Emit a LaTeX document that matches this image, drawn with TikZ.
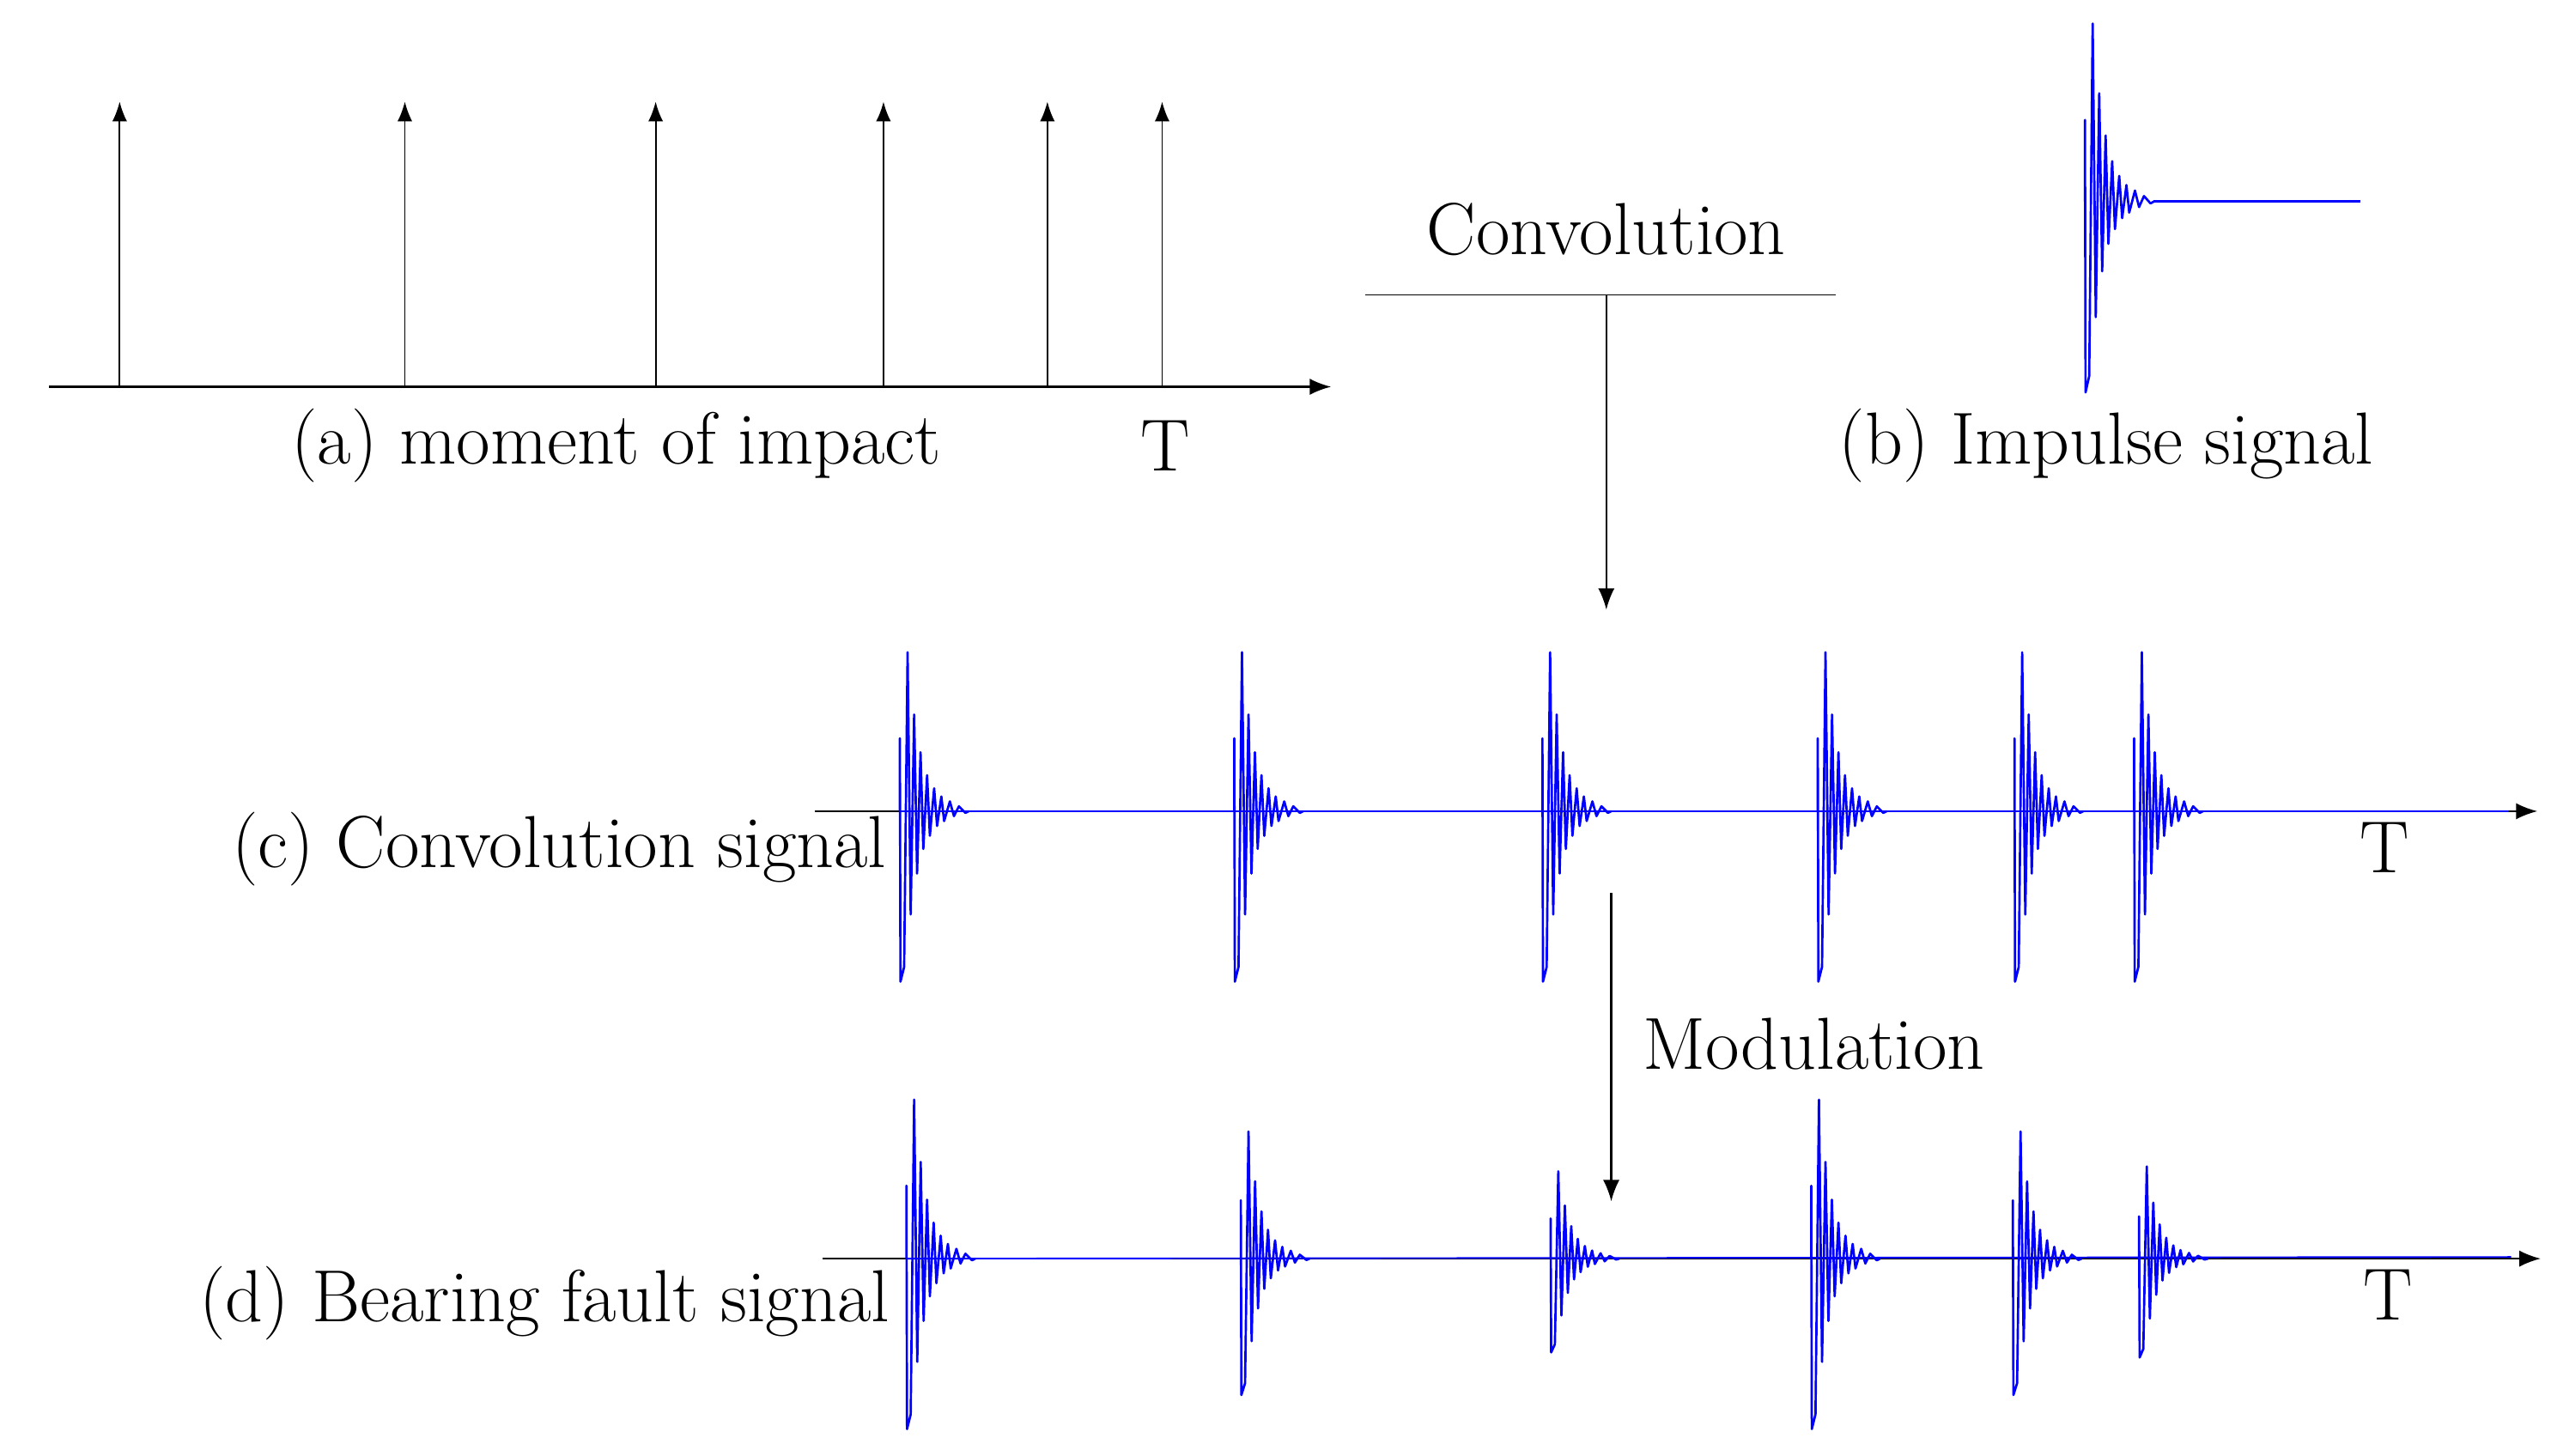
\documentclass[tikz,border=0pt]{standalone}
\usetikzlibrary{arrows.meta}
\newcommand{\myburst}[3]{%
\begin{scope}[shift={(#1,#2)},yscale=-#3]
\draw[sig] (0,0) -- (0,44.5) -- (0.35,-104) -- (2.6,-95) -- (4.7,97) -- (6.6,-63) -- (8.7,59) -- (10.5,-38) -- (12.6,36) -- (14.3,-23) -- (16.6,22) -- (18.3,-15) -- (20.9,14) -- (22.7,-9) -- (25.3,9) -- (27,-6) -- (30.5,6) -- (33,-3) -- (36,3) -- (40,-1) -- (42,0);
\end{scope}}
\tikzset{sig/.style={blue,line width=1.4pt,line join=round},
 ax/.style={line width=1.1pt,-{Latex[length=13pt,width=10pt]}},
 imp/.style={line width=1pt,-{Latex[length=12pt,width=9pt]}},
 lbl/.style={font=\fontsize{45}{54}\selectfont,inner sep=0pt}}
\begin{document}
\begin{tikzpicture}[x=1pt,y=-1pt]
\useasboundingbox (0,0) rectangle (1560,888);
% (a)
\coordinate (a0) at (30,236); \coordinate (a1) at (812,236);
\draw[ax] (a0) -- (a1);
\foreach \x/\n in {73/1,247/2,400/3,539/4,639/5,709/6}{
 \coordinate (ib\n) at (\x,236); \coordinate (it\n) at (\x,62);
 \draw[imp] (ib\n) -- (it\n);}
\node[lbl] (la) at (376,272) {(a) moment of impact};
\node[lbl] (ta) at (711,272) {T};
% convolution
\node[lbl] (conv) at (980,140) {Convolution};
\coordinate (cl) at (833,180); \coordinate (cr) at (1120,180); \coordinate (cm) at (980,180); \coordinate (ce) at (980,372);
\draw[line width=0.9pt] (cl) -- (cr);
\draw[ax] (cm) -- (ce);
% (b)
\myburst{1272}{123}{1.12}
\coordinate (b0) at (1314,123); \coordinate (b1) at (1440,123);
\draw[sig] (b0) -- (b1);
\node[lbl] (lb) at (1285,272) {(b) Impulse signal};
% (c)
\coordinate (c0) at (497,495); \coordinate (c1) at (1548,495);
\draw[ax] (c0) -- (c1);
\coordinate (cs0) at (549,495); \coordinate (cs1) at (1530,495);
\draw[sig,line width=1pt] (cs0) -- (cs1);
\foreach \x in {549,753,941,1109,1229,1302}{\myburst{\x}{495}{1}}
\node[lbl,anchor=east] (lc) at (541,518) {(c) Convolution signal};
\node[lbl] (tc) at (1455,517) {T};
% modulation
\coordinate (m0) at (983,545); \coordinate (m1) at (983,733);
\draw[ax] (m0) -- (m1);
\node[lbl,anchor=west] (mod) at (1002,637) {Modulation};
% (d)
\coordinate (d0) at (502,768); \coordinate (d1) at (1550,768);
\draw[ax] (d0) -- (d1);
\coordinate (ds0) at (553,768); \coordinate (ds1) at (1532,767);
\draw[sig,line width=1pt] (ds0) -- (ds1);
\foreach \x/\s in {553/1.0,757/0.8,946/0.55,1105/1.0,1228/0.8,1305/0.58}{\myburst{\x}{768}{\s}}
\node[lbl,anchor=east] (ld) at (543,795) {(d) Bearing fault signal};
\node[lbl] (td) at (1457,790) {T};
\end{tikzpicture}
\end{document}
